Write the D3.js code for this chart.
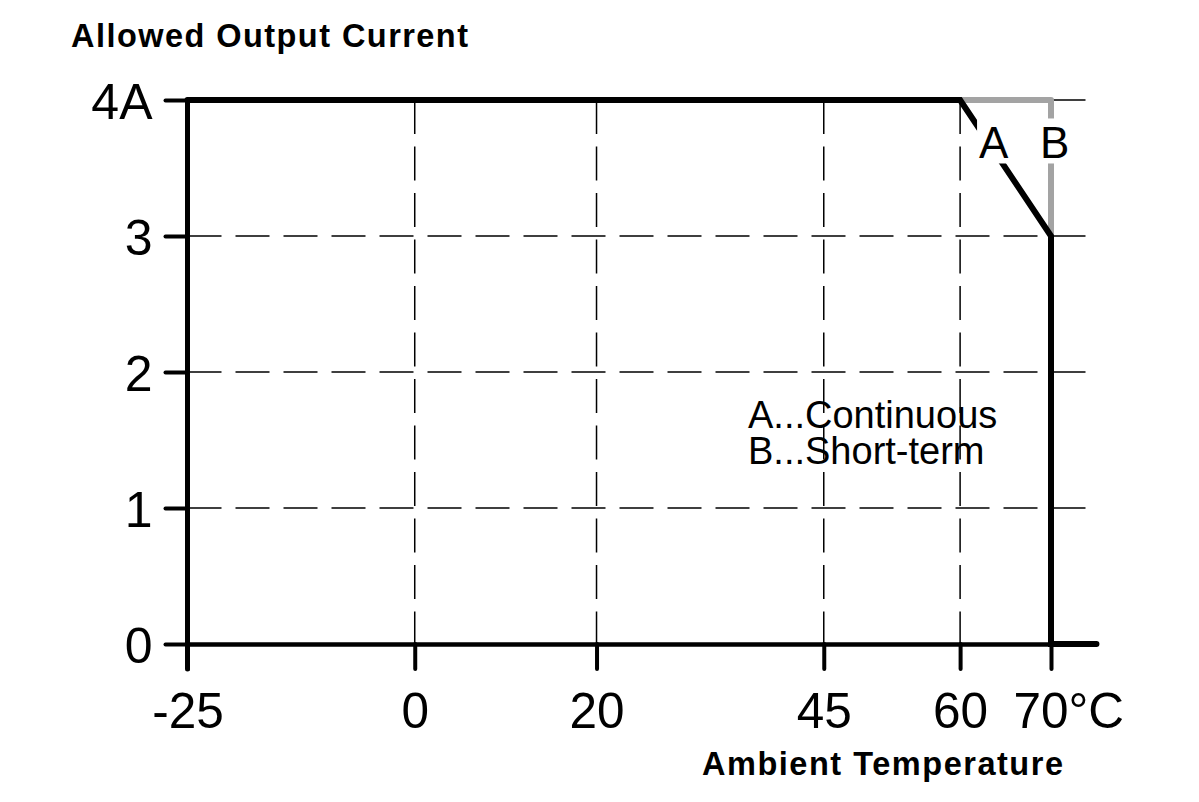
<!DOCTYPE html>
<html>
<head>
<meta charset="utf-8">
<script src="https://cdn.jsdelivr.net/npm/d3@7"></script>
<style>
  html, body { margin: 0; padding: 0; background: #fff; }
  svg { display: block; }
  text { font-family: "Liberation Sans", Arial, sans-serif; fill: #000; }
</style>
</head>
<body>
<svg id="chart" width="1199" height="802"></svg>
<script>
// ---- data ----
const xTicks = [-25, 0, 20, 45, 60, 70];
const xTickLabels = ["-25", "0", "20", "45", "60", "70°C"];
const yTicks = [0, 1, 2, 3, 4];
const yTickLabels = ["0", "1", "2", "3", "4A"];
const xGrid = [0, 20, 45, 60];
const yGrid = [1, 2, 3, 4];

// Curve A (continuous)
const tempA = [-25, 60, 70, 70, 75];
const currentA = [4, 4, 3, 0, 0];
// Curve B (short-term)
const tempB = [60, 70, 70];
const currentB = [4, 4, 3];

const curveLabels = [
  { text: "A", t: 63.7, c: 3.57 },
  { text: "B", t: 70.4, c: 3.57 }
];
const legendLines = ["A...Continuous", "B...Short-term"];
const yTitle = "Allowed Output Current";
const xTitle = "Ambient Temperature";

// ---- scales ----
const x = d3.scaleLinear().domain([-25, 70]).range([187.5, 1051]);
const y = d3.scaleLinear().domain([0, 4]).range([644, 100]);

const svg = d3.select("#chart");

// ---- grid ----
const grid = svg.append("g").attr("stroke", "#000").attr("stroke-width", 1.5).attr("fill", "none");
grid.selectAll("line.h").data(yGrid).join("line")
  .attr("class", "h")
  .attr("x1", x(-25)).attr("x2", x(-25) + 899)
  .attr("y1", d => y(d)).attr("y2", d => y(d))
  .attr("stroke-dasharray", "34,14");
grid.selectAll("line.v").data(xGrid).join("line")
  .attr("class", "v")
  .attr("x1", d => x(d)).attr("x2", d => x(d))
  .attr("y1", y(4)).attr("y2", y(0))
  .attr("stroke-dasharray", "34,12.5");

// ---- x axis ----
const xAxis = d3.axisBottom(x)
  .tickValues(xTicks)
  .tickSize(25)
  .tickSizeOuter(0)
  .tickPadding(24)
  .tickFormat((d, i) => xTickLabels[i]);
const gx = svg.append("g").attr("transform", `translate(0,${y(0)})`).call(xAxis);
gx.select(".domain").attr("stroke-width", 4.5).attr("stroke", "#000");
gx.selectAll(".tick line").attr("stroke-width", 4).attr("stroke-linecap", "round").attr("stroke", "#000");
gx.selectAll(".tick text")
  .attr("font-size", 49.5)
  .attr("font-family", '"Liberation Sans", Arial, sans-serif')
  .attr("fill", "#000");
gx.selectAll(".tick text").filter(d => d === 70)
  .attr("text-anchor", "start")
  .attr("x", -38);

// ---- y axis ----
const yAxis = d3.axisLeft(y)
  .tickValues(yTicks)
  .tickSize(22)
  .tickSizeOuter(0)
  .tickPadding(13)
  .tickFormat((d, i) => yTickLabels[i]);
const gy = svg.append("g").attr("transform", `translate(${x(-25)},0)`).call(yAxis);
gy.select(".domain").remove();
gy.selectAll(".tick line").attr("stroke-width", 4).attr("stroke-linecap", "round").attr("stroke", "#000");
gy.selectAll(".tick text")
  .attr("font-size", 50)
  .attr("font-family", '"Liberation Sans", Arial, sans-serif')
  .attr("fill", "#000")
  .attr("dy", "0.36em");
// y axis line extends down to bottom of x ticks
svg.append("line")
  .attr("x1", x(-25)).attr("x2", x(-25))
  .attr("y1", y(4)).attr("y2", y(0) + 25)
  .attr("stroke", "#000").attr("stroke-width", 5).attr("stroke-linecap", "round");

// ---- curves ----
const line = d3.line().x(d => x(d[0])).y(d => y(d[1]));
svg.append("path")
  .datum(tempB.map((t, i) => [t, currentB[i]]))
  .attr("d", line)
  .attr("fill", "none").attr("stroke", "#a3a3a3").attr("stroke-width", 6)
  .attr("stroke-linejoin", "round");
svg.append("path")
  .datum(tempA.map((t, i) => [t, currentA[i]]))
  .attr("d", line)
  .attr("fill", "none").attr("stroke", "#000").attr("stroke-width", 6)
  .attr("stroke-linejoin", "miter").attr("stroke-linecap", "round");

// ---- curve labels with white knock-out ----
const lbl = svg.append("g");
curveLabels.forEach(l => {
  const g = lbl.append("g");
  const r = g.append("rect").attr("fill", "#fff");
  const t = g.append("text")
    .attr("x", x(l.t)).attr("y", y(l.c))
    .attr("text-anchor", "middle")
    .attr("font-size", 44)
    .text(l.text);
  const b = t.node().getBBox();
  r.attr("x", b.x - 2).attr("width", b.width + 4)
   .attr("y", y(l.c) - 40).attr("height", 45);
});

// ---- legend text ----
svg.append("g").selectAll("text").data(legendLines).join("text")
  .attr("x", 748)
  .attr("y", (d, i) => 428 + i * 36)
  .attr("font-size", 38)
  .text(d => d);

// ---- titles ----
svg.append("text")
  .attr("x", 71).attr("y", 47)
  .attr("font-size", 32.5).attr("font-weight", "bold")
  .attr("textLength", 397).attr("lengthAdjust", "spacing")
  .text(yTitle);
svg.append("text")
  .attr("x", 702).attr("y", 775)
  .attr("font-size", 32.5).attr("font-weight", "bold")
  .attr("textLength", 361).attr("lengthAdjust", "spacing")
  .text(xTitle);
</script>
</body>
</html>
